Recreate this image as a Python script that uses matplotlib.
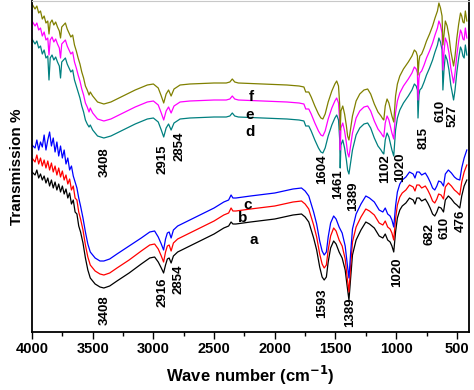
import matplotlib
matplotlib.use("Agg")
import matplotlib.pyplot as plt
from matplotlib.ticker import MultipleLocator

plt.rcParams["font.family"] = ["Liberation Sans", "DejaVu Sans"]
plt.rcParams["font.weight"] = "bold"

# lower group (a, b, c)
wn_low = [4000, 3975, 3960, 3945, 3930, 3915, 3900, 3885, 3870, 3855, 3840, 3825,
          3810, 3795, 3780, 3765, 3750, 3735, 3720, 3705, 3690, 3675, 3660, 3645,
          3630, 3615, 3600, 3580, 3560, 3540, 3520, 3480, 3440, 3408, 3360, 3300,
          3200, 3100, 3030, 2990, 2960, 2935, 2916, 2900, 2885, 2870, 2854, 2835,
          2800, 2700, 2600, 2500, 2420, 2380, 2360, 2345, 2320, 2200, 2000, 1850,
          1780, 1750, 1720, 1700, 1680, 1655, 1630, 1610, 1593, 1575, 1560, 1540,
          1515, 1495, 1470, 1445, 1420, 1405, 1389, 1375, 1360, 1330, 1290, 1250,
          1220, 1180, 1140, 1110, 1090, 1070, 1050, 1035, 1020, 1005, 990, 970,
          950, 920, 890, 860, 845, 830, 810, 790, 760, 740, 720, 700,
          682, 665, 650, 630, 610, 595, 570, 545, 520, 500, 476, 460,
          440, 418]
trans_a = [160, 157, 162, 154, 158, 152, 156, 149, 154, 146, 152, 144,
           150, 142, 148, 140, 146, 138, 143, 134, 139, 128, 132, 120,
           118, 106, 100, 89, 74, 62, 54, 48, 45, 44, 46, 51,
           59, 68, 74, 75, 70, 64, 59, 67, 73, 74, 69, 76,
           80, 86, 92, 98, 104, 106, 110, 108, 108, 110, 113, 117,
           118, 115, 110, 102, 94, 82, 65, 55, 52, 55, 70, 84,
           91, 88, 80, 74, 62, 47, 32, 54, 77, 92, 102, 110,
           108, 104, 96, 94, 98, 92, 90, 86, 80, 100, 114, 122,
           126, 129, 134, 132, 128, 134, 134, 131, 133, 129, 124, 118,
           116, 120, 125, 124, 120, 132, 136, 133, 129, 127, 124, 136,
           146, 152]
trans_b = [174, 170, 177, 168, 174, 166, 172, 164, 171, 162, 169, 160,
           166, 157, 164, 155, 161, 152, 157, 148, 153, 142, 146, 134,
           132, 120, 113, 102, 87, 75, 67, 61, 58, 57, 59, 64,
           72, 81, 87, 88, 83, 76, 70, 80, 86, 87, 81, 89,
           93, 99, 105, 111, 117, 119, 124, 121, 121, 123, 126, 130,
           131, 128, 123, 115, 107, 95, 78, 68, 64, 67, 82, 96,
           104, 101, 92, 86, 73, 56, 40, 66, 90, 105, 115, 123,
           121, 117, 109, 107, 111, 105, 103, 99, 92, 113, 127, 135,
           139, 142, 147, 145, 141, 147, 147, 144, 146, 142, 137, 131,
           129, 133, 138, 137, 133, 145, 149, 146, 142, 140, 137, 150,
           160, 167]
trans_c = [187, 184, 192, 182, 190, 185, 197, 182, 192, 200, 186, 194,
           180, 190, 176, 186, 174, 182, 168, 174, 162, 166, 156, 150,
           144, 134, 126, 114, 100, 88, 80, 74, 71, 71, 73, 78,
           86, 94, 100, 101, 95, 88, 82, 93, 99, 100, 94, 102,
           106, 112, 118, 124, 130, 132, 137, 134, 134, 136, 139, 143,
           144, 141, 136, 128, 120, 108, 91, 81, 77, 80, 95, 109,
           116, 113, 105, 99, 86, 70, 54, 79, 103, 118, 128, 136,
           134, 130, 122, 120, 124, 118, 116, 112, 105, 126, 140, 148,
           152, 155, 160, 158, 154, 160, 160, 157, 159, 155, 150, 144,
           142, 146, 151, 150, 146, 158, 162, 159, 155, 153, 152, 164,
           174, 182]

# upper group (d, e, f)
wn_up = [4000, 3975, 3960, 3945, 3930, 3915, 3900, 3885, 3870, 3860, 3850, 3835,
         3820, 3805, 3790, 3775, 3765, 3755, 3740, 3725, 3710, 3695, 3680, 3665,
         3650, 3635, 3620, 3605, 3590, 3575, 3560, 3545, 3530, 3520, 3500, 3460,
         3408, 3350, 3250, 3150, 3050, 3000, 2960, 2935, 2915, 2895, 2875, 2854,
         2830, 2780, 2700, 2500, 2400, 2370, 2350, 2330, 2300, 2100, 1900, 1800,
         1760, 1745, 1720, 1700, 1670, 1640, 1620, 1604, 1585, 1560, 1530, 1505,
         1490, 1475, 1465, 1461, 1455, 1440, 1425, 1410, 1400, 1389, 1378, 1360,
         1330, 1300, 1265, 1235, 1210, 1180, 1150, 1125, 1110, 1102, 1090, 1075,
         1060, 1035, 1020, 1005, 990, 970, 940, 900, 870, 850, 835, 825,
         820, 812, 805, 790, 770, 750, 725, 700, 680, 660, 648, 635,
         622, 615, 606, 595, 580, 565, 550, 535, 527, 515, 500, 485,
         470, 460, 450, 440, 430, 418]
trans_d = [293, 288, 291, 284, 286, 278, 282, 274, 276, 252, 274, 277,
           272, 275, 270, 266, 254, 270, 272, 274, 268, 264, 260, 262,
           252, 246, 240, 234, 226, 220, 212, 208, 205, 207, 202, 196,
           194, 196, 202, 208, 213, 214, 210, 202, 195, 204, 208, 202,
           209, 213, 214, 215, 215, 216, 219, 216, 215, 214, 213, 212,
           211, 206, 206, 201, 192, 184, 180, 179, 184, 196, 207, 214,
           217, 212, 192, 164, 187, 192, 184, 172, 162, 158, 167, 182,
           197, 204, 208, 209, 204, 194, 186, 182, 179, 178, 192, 199,
           195, 182, 176, 202, 214, 222, 229, 236, 242, 248, 246, 242,
           214, 237, 242, 244, 250, 257, 264, 272, 280, 287, 294, 290,
           282, 242, 262, 277, 272, 262, 247, 237, 232, 242, 260, 274,
           285, 282, 276, 274, 287, 277]
trans_e = [311, 306, 309, 302, 304, 296, 300, 292, 294, 277, 292, 295,
           290, 293, 288, 284, 274, 288, 290, 292, 286, 282, 278, 280,
           270, 264, 257, 251, 243, 237, 229, 225, 220, 224, 219, 213,
           211, 213, 219, 225, 230, 231, 227, 219, 212, 221, 225, 219,
           226, 230, 231, 232, 232, 233, 236, 233, 232, 231, 230, 229,
           228, 223, 223, 218, 209, 201, 197, 196, 201, 213, 224, 231,
           234, 229, 210, 182, 204, 209, 201, 189, 179, 175, 184, 199,
           214, 221, 225, 226, 221, 211, 203, 199, 196, 195, 209, 216,
           212, 199, 193, 219, 231, 239, 246, 253, 259, 265, 263, 259,
           232, 254, 259, 261, 267, 274, 281, 289, 297, 304, 311, 307,
           299, 262, 280, 294, 289, 279, 264, 254, 249, 259, 277, 291,
           302, 299, 293, 292, 304, 294]
trans_f = [328, 323, 326, 319, 321, 313, 316, 309, 311, 298, 309, 312,
           307, 310, 305, 301, 294, 305, 307, 309, 303, 299, 295, 297,
           287, 281, 274, 268, 260, 254, 246, 242, 237, 240, 236, 230,
           228, 230, 236, 242, 247, 248, 244, 236, 229, 238, 242, 236,
           243, 247, 248, 249, 249, 250, 253, 250, 249, 248, 247, 246,
           245, 240, 240, 235, 226, 218, 214, 213, 218, 230, 241, 248,
           251, 246, 227, 202, 221, 226, 218, 206, 196, 192, 201, 216,
           231, 238, 242, 243, 238, 228, 220, 216, 213, 212, 226, 233,
           229, 216, 210, 236, 248, 256, 263, 270, 276, 282, 280, 276,
           257, 271, 276, 278, 284, 291, 298, 306, 314, 321, 329, 324,
           316, 287, 297, 311, 306, 296, 281, 271, 266, 276, 294, 308,
           319, 316, 310, 309, 321, 311]

peaks_up = [("3408", 3402, 170), ("2915", 2926, 173), ("2854", 2787, 186),
            ("1604", 1606, 163), ("1461", 1475, 148), ("1389", 1352, 136),
            ("1102", 1090, 163), ("1020", 967, 165), ("815", 770, 194),
            ("610", 636, 221), ("527", 536, 216)]
peaks_low = [("3408", 3402, 22), ("2916", 2926, 40), ("2854", 2795, 53),
             ("1593", 1606, 29), ("1389", 1377, 20), ("1020", 992, 60),
             ("682", 729, 98), ("610", 598, 104), ("476", 467, 111)]
letters = [("f", 2197, 235), ("e", 2205, 217), ("d", 2205, 200),
           ("c", 2221, 127), ("b", 2262, 114), ("a", 2172, 92)]

fig = plt.figure(figsize=(4.74, 3.9), dpi=100)
ax = fig.add_axes([32 / 474, 58 / 390, 437 / 474, 331 / 390])

ax.plot(wn_low, trans_a, color="black", lw=0.9)
ax.plot(wn_low, trans_b, color="red", lw=0.9)
ax.plot(wn_low, trans_c, color="blue", lw=0.9)
ax.plot(wn_up, trans_d, color="#008080", lw=0.9)
ax.plot(wn_up, trans_e, color="#ff00ff", lw=0.9)
ax.plot(wn_up, trans_f, color="#808000", lw=0.9)

for txt, x, y in peaks_up + peaks_low:
    ax.text(x, y, txt, rotation=90, ha="center", va="center",
            fontsize=9.5, fontweight="bold")
for txt, x, y in letters:
    ax.text(x, y, txt, ha="center", va="center", fontsize=11, fontweight="bold")

ax.set_xlim(4000, 400)
ax.set_ylim(0, 331)
ax.xaxis.set_major_locator(MultipleLocator(500))
ax.xaxis.set_minor_locator(MultipleLocator(250))
ax.tick_params(axis="x", which="major", direction="out", length=5, width=1,
               labelsize=10.5, pad=2)
ax.tick_params(axis="x", which="minor", direction="out", length=3, width=1)
ax.set_yticks([])
for lab in ax.get_xticklabels():
    lab.set_fontweight("bold")
for side in ("left", "right", "bottom"):
    ax.spines[side].set_linewidth(1.3)
ax.spines["top"].set_color("#c8c8c8")

ax.set_xlabel("Wave number (cm$^{\\mathbf{-1}}$)", fontsize=12, fontweight="bold",
              labelpad=6)
ax.set_ylabel("Transmission %", fontsize=11, fontweight="bold", labelpad=6)

fig.savefig("out.png", dpi=100)
